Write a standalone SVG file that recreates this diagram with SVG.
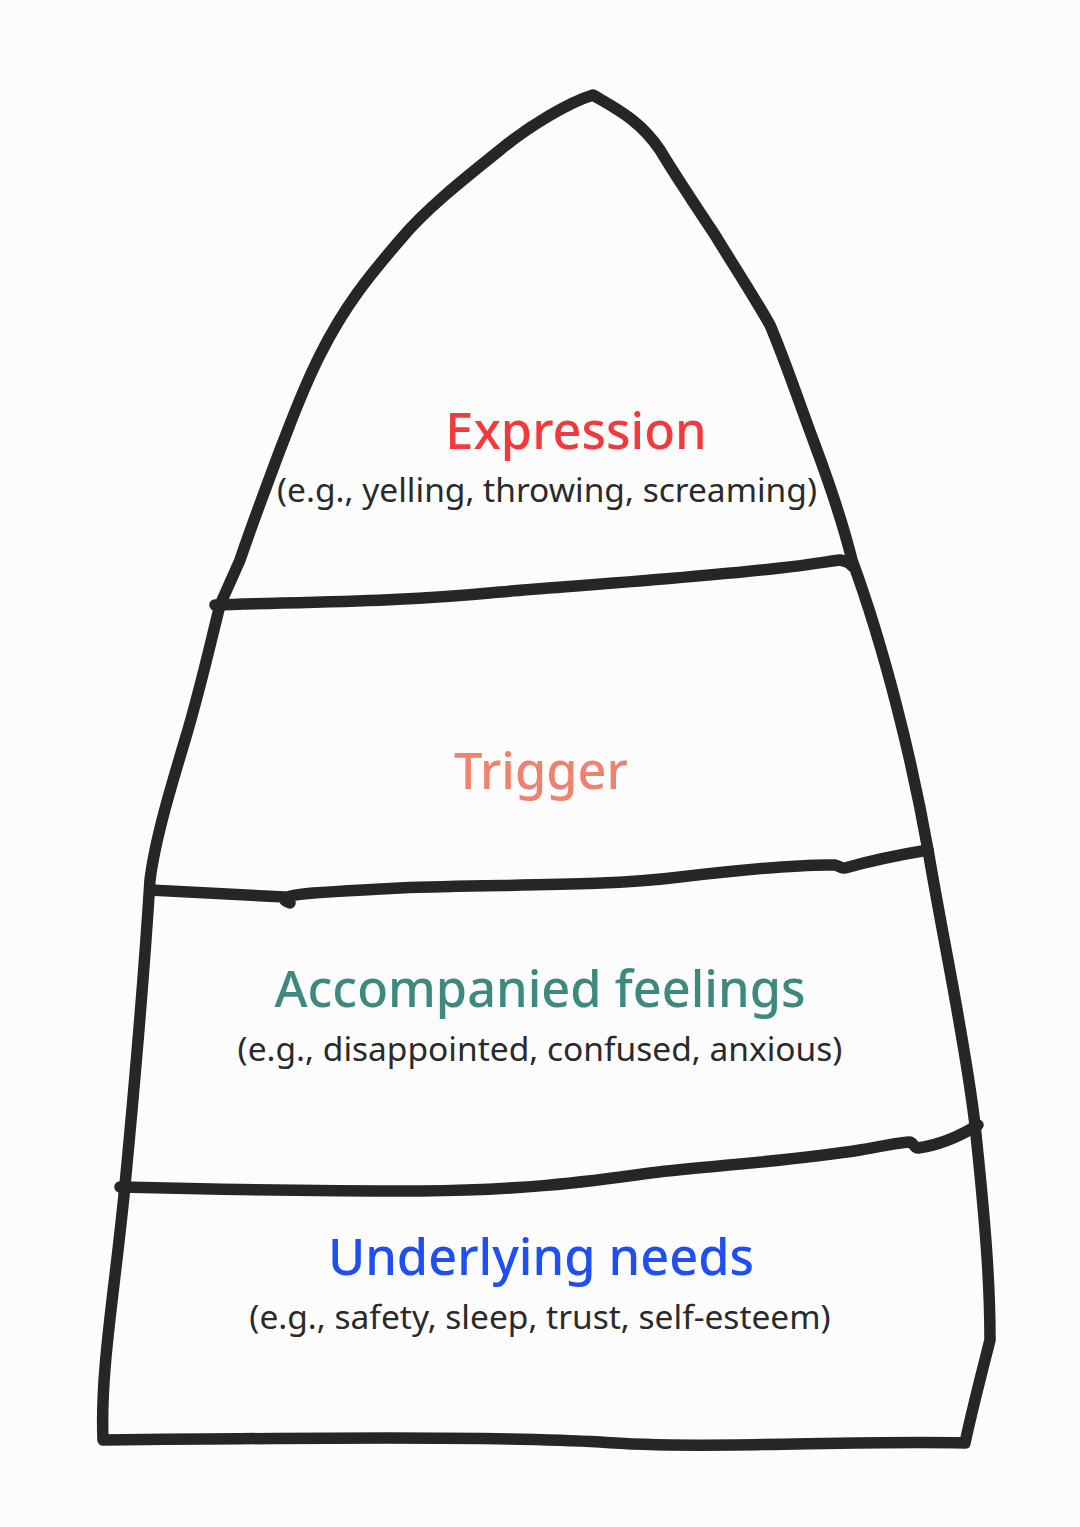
<svg xmlns="http://www.w3.org/2000/svg" width="1080" height="1527" viewBox="0 0 1080 1527">
<style>
.ln{fill:none;stroke:#262626;stroke-width:11.5;stroke-linecap:round;stroke-linejoin:round}
.t{font-family:"Noto Sans","Open Sans",sans-serif;text-anchor:middle;font-size:50.5px;font-weight:500}
.s{font-family:"Noto Sans","Open Sans",sans-serif;text-anchor:middle;font-size:33.5px;fill:#2a2a2a}
</style>
<rect width="1080" height="1527" fill="#fcfcfc"/>
<g id="outline">
<path class="ln" d="M593,95 C570,102 530,125 500,150 C460,182 425,210 400,240 C370,275 345,305 320,355 C300,395 290,425 280,450 C265,490 250,530 240,560 L220,605 C210,645 200,690 185,740 C170,790 155,840 150,880 C145,960 135,1080 125,1185 C115,1290 100,1370 103,1440 C300,1438 500,1436 600,1442 C700,1450 850,1440 965,1443 C972,1410 985,1360 990,1340 C990,1280 985,1220 975,1125 C965,1040 945,950 928,850 C912,760 885,650 852,560 C842,520 830,485 815,445 C800,405 785,360 770,325 C750,290 730,260 715,235 C695,205 675,175 660,150 C640,120 615,108 593,95 Z"/>
</g>
<g id="connectors">
<path class="ln" d="M215,605 C300,602 400,602 500,592 C600,584 700,577 780,568 C810,565 830,561 840,560 C846,561 850,563 852,566"/>
<path class="ln" d="M150,890 C200,893 250,895 285,897 C290,899 290,903 290,903 C270,895 300,893 400,888 C500,884 600,887 680,877 C740,870 800,864 835,865 C842,867 840,868 845,868 C880,858 910,853 928,850"/>
<path class="ln" d="M120,1187 C200,1189 300,1191 420,1191 C520,1190 580,1183 650,1173 C720,1165 790,1161 860,1150 C885,1146 900,1142 910,1142 C916,1145 914,1148 918,1148 C940,1145 960,1136 978,1125"/>
</g>
<g id="expression">
<text class="t" x="576" y="449" fill="#f23a3c">Expression</text>
<text class="s" x="547" y="502">(e.g., yelling, throwing, screaming)</text>
</g>
<g id="trigger">
<text class="t" x="541" y="789" fill="#ee826f">Trigger</text>
</g>
<g id="feelings">
<text class="t" x="540" y="1007" fill="#3e897f">Accompanied feelings</text>
<text class="s" x="540" y="1061">(e.g., disappointed, confused, anxious)</text>
</g>
<g id="needs">
<text class="t" x="541" y="1275" fill="#1e4ff2">Underlying needs</text>
<text class="s" x="540" y="1329">(e.g., safety, sleep, trust, self-esteem)</text>
</g>
</svg>
